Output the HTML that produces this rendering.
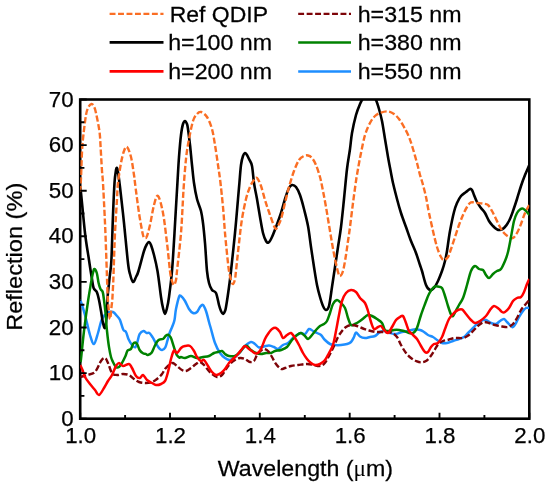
<!DOCTYPE html>
<html><head><meta charset="utf-8"><title>Reflection vs Wavelength</title>
<style>html,body{margin:0;padding:0;background:#fff}body{width:550px;height:487px;overflow:hidden}svg{display:block}text{font-family:"Liberation Sans",Arial,sans-serif;font-size:22.3px;fill:#000;stroke:#000;stroke-width:0.25px}</style></head><body>
<svg width="550" height="487" viewBox="0 0 550 487">
<rect width="550" height="487" fill="#fff"/>
<defs><clipPath id="c"><rect x="80.2" y="99.5" width="449.1" height="319.2"/></clipPath></defs>
<rect x="80.2" y="99.5" width="449.1" height="319.2" fill="none" stroke="#000" stroke-width="2.6"/>
<g clip-path="url(#c)" fill="none" stroke-linejoin="round" stroke-linecap="butt">
<path d="M80.2 301.0C80.3 301.2 80.2 299.7 81.0 302.0C81.8 304.3 83.5 309.5 85.0 315.0C86.5 320.5 88.5 330.2 90.0 335.0C91.5 339.8 92.7 344.3 94.0 344.0C95.3 343.7 96.7 337.2 98.0 333.0C99.3 328.8 100.5 322.3 102.0 319.0C103.5 315.7 105.2 314.2 107.0 313.0C108.8 311.8 111.3 311.5 113.0 312.0C114.7 312.5 115.8 314.7 117.0 316.0C118.2 317.3 119.0 317.7 120.0 320.0C121.0 322.3 122.3 327.8 123.3 329.8C124.3 331.8 125.1 330.4 126.0 332.0C126.9 333.6 127.7 337.4 128.7 339.6C129.7 341.8 130.9 343.7 132.0 345.0C133.1 346.3 134.4 347.8 135.3 347.3C136.2 346.8 136.7 344.0 137.4 341.8C138.1 339.6 138.6 336.0 139.6 334.2C140.6 332.4 142.2 331.2 143.4 331.0C144.6 330.8 145.7 332.7 146.7 333.0C147.7 333.3 148.4 332.3 149.4 333.0C150.4 333.7 151.6 335.7 152.7 337.4C153.8 339.1 154.9 341.6 156.0 343.4C157.1 345.2 158.3 347.3 159.3 348.4C160.3 349.5 161.0 350.2 162.0 350.0C163.0 349.8 164.4 348.9 165.3 347.3C166.2 345.8 166.7 343.1 167.4 340.7C168.1 338.3 168.8 335.4 169.6 333.0C170.4 330.6 171.5 328.7 172.3 326.5C173.1 324.3 173.9 322.9 174.5 320.0C175.1 317.1 175.2 312.8 176.0 309.0C176.8 305.2 178.2 299.2 179.0 297.0C179.8 294.8 180.0 295.3 181.0 296.0C182.0 296.7 183.7 298.8 185.0 301.0C186.3 303.2 187.7 307.0 189.0 309.0C190.3 311.0 191.7 312.5 193.0 313.0C194.3 313.5 195.8 313.0 197.0 312.0C198.2 311.0 199.0 308.2 200.0 307.0C201.0 305.8 202.0 304.3 203.0 305.0C204.0 305.7 205.0 308.2 206.0 311.0C207.0 313.8 208.2 319.0 209.0 322.0C209.8 325.0 210.0 325.5 211.0 329.0C212.0 332.5 213.5 339.0 215.0 343.0C216.5 347.0 218.3 350.5 220.0 353.0C221.7 355.5 223.3 356.8 225.0 358.0C226.7 359.2 228.3 360.2 230.0 360.0C231.7 359.8 233.2 358.5 235.0 357.0C236.8 355.5 239.3 352.8 241.0 351.0C242.7 349.2 243.3 347.5 245.0 346.0C246.7 344.5 249.3 342.3 251.0 342.0C252.7 341.7 253.7 343.1 255.0 344.0C256.3 344.9 257.5 347.1 259.0 347.5C260.5 347.9 262.3 346.8 264.0 346.5C265.7 346.2 267.3 345.4 269.0 345.5C270.7 345.6 272.5 346.4 274.0 347.0C275.5 347.6 276.5 349.3 278.0 349.0C279.5 348.7 281.3 346.0 283.0 345.0C284.7 344.0 286.3 344.2 288.0 343.0C289.7 341.8 291.5 339.3 293.0 338.0C294.5 336.7 295.7 335.8 297.0 335.0C298.3 334.2 299.7 333.2 301.0 333.0C302.3 332.8 303.7 334.7 305.0 334.0C306.3 333.3 307.7 329.5 309.0 329.0C310.3 328.5 311.7 330.3 313.0 331.0C314.3 331.7 315.7 332.3 317.0 333.0C318.3 333.7 319.7 333.8 321.0 335.0C322.3 336.2 323.5 338.5 325.0 340.0C326.5 341.5 328.3 343.2 330.0 344.0C331.7 344.8 333.2 344.8 335.0 345.0C336.8 345.2 339.0 345.2 341.0 345.0C343.0 344.8 345.3 344.5 347.0 344.0C348.7 343.5 349.8 343.2 351.0 342.0C352.2 340.8 353.2 338.6 354.0 337.0C354.8 335.4 355.0 332.6 356.0 332.5C357.0 332.4 358.5 335.6 360.0 336.5C361.5 337.4 363.3 337.9 365.0 338.0C366.7 338.1 368.3 337.3 370.0 337.0C371.7 336.7 373.3 336.8 375.0 336.0C376.7 335.2 378.3 332.8 380.0 332.0C381.7 331.2 383.3 330.8 385.0 331.0C386.7 331.2 388.2 332.5 390.0 333.0C391.8 333.5 394.0 334.2 396.0 334.0C398.0 333.8 400.0 332.5 402.0 332.0C404.0 331.5 406.0 331.4 408.0 331.0C410.0 330.6 412.0 329.6 414.0 329.4C416.0 329.2 418.3 329.6 420.0 330.0C421.7 330.4 422.7 331.2 424.0 332.0C425.3 332.8 426.5 334.2 428.0 335.0C429.5 335.8 431.5 336.2 433.0 337.0C434.5 337.8 435.5 339.0 437.0 340.0C438.5 341.0 440.3 342.5 442.0 343.0C443.7 343.5 445.2 343.3 447.0 343.0C448.8 342.7 451.0 341.7 453.0 341.0C455.0 340.3 457.2 339.7 459.0 339.0C460.8 338.3 462.5 338.0 464.0 337.0C465.5 336.0 466.5 334.5 468.0 333.0C469.5 331.5 471.3 329.7 473.0 328.0C474.7 326.3 476.3 324.3 478.0 323.0C479.7 321.7 481.7 320.5 483.0 320.0C484.3 319.5 484.7 319.5 486.0 320.0C487.3 320.5 489.3 322.3 491.0 323.0C492.7 323.7 494.5 324.3 496.0 324.0C497.5 323.7 498.7 321.8 500.0 321.0C501.3 320.2 502.8 318.8 504.0 319.0C505.2 319.2 505.8 320.8 507.0 322.0C508.2 323.2 510.0 325.2 511.0 326.0C512.0 326.8 512.2 327.5 513.0 327.0C513.8 326.5 515.0 324.7 516.0 323.0C517.0 321.3 517.8 319.0 519.0 317.0C520.2 315.0 521.8 312.5 523.0 311.0C524.2 309.5 525.0 308.5 526.0 308.0C527.0 307.5 528.8 308.0 529.3 308.0" stroke="#1E8EFF" stroke-width="2.5"/>
<path d="M80.2 190.0C80.3 190.5 80.2 185.8 81.0 193.0C81.8 200.2 83.7 221.8 85.0 233.0C86.3 244.2 87.9 252.5 89.0 260.0C90.1 267.5 91.0 273.3 91.8 278.0C92.6 282.7 92.8 285.7 93.6 288.0C94.4 290.3 95.9 290.0 96.8 292.0C97.7 294.0 98.3 296.8 99.0 300.0C99.7 303.2 100.3 307.2 101.0 311.0C101.7 314.8 102.3 320.2 103.0 323.0C103.7 325.8 104.4 328.8 105.0 328.0C105.6 327.2 106.0 323.3 106.5 318.0C107.0 312.7 107.4 301.2 107.7 296.0C108.0 290.8 108.2 290.7 108.6 287.0C109.0 283.3 109.5 278.5 110.0 274.0C110.5 269.5 110.9 269.8 111.4 260.0C111.9 250.2 112.5 227.8 113.0 215.0C113.5 202.2 114.0 190.5 114.5 183.0C115.0 175.5 115.6 172.5 116.0 170.0C116.4 167.5 116.7 167.7 117.0 168.0C117.3 168.3 117.5 168.8 118.0 172.0C118.5 175.2 119.0 178.5 120.0 187.0C121.0 195.5 122.7 210.3 124.0 223.0C125.3 235.7 127.0 254.5 128.0 263.0C129.0 271.5 129.2 270.8 130.0 274.0C130.8 277.2 132.0 281.5 133.0 282.0C134.0 282.5 135.1 278.8 136.0 277.0C136.9 275.2 137.2 275.3 138.5 271.0C139.8 266.7 142.6 255.5 144.0 251.0C145.4 246.5 146.2 245.5 147.0 244.0C147.8 242.5 148.3 241.8 149.0 242.0C149.7 242.2 150.2 242.8 151.0 245.0C151.8 247.2 152.9 250.7 154.0 255.0C155.1 259.3 156.3 264.0 157.5 271.0C158.7 278.0 160.1 290.8 161.0 297.0C161.9 303.2 162.3 305.2 163.0 308.0C163.7 310.8 164.3 314.0 165.0 314.0C165.7 314.0 166.3 310.8 167.0 308.0C167.7 305.2 168.2 303.2 169.0 297.0C169.8 290.8 171.1 281.7 172.0 271.0C172.9 260.3 173.7 246.5 174.5 233.0C175.3 219.5 176.2 202.7 177.0 190.0C177.8 177.3 178.3 166.2 179.0 157.0C179.7 147.8 180.3 140.5 181.0 135.0C181.7 129.5 182.3 126.3 183.0 124.0C183.7 121.7 184.3 121.0 185.0 121.0C185.7 121.0 186.5 122.7 187.0 124.0C187.5 125.3 187.5 125.5 188.0 129.0C188.5 132.5 189.3 139.0 190.0 145.0C190.7 151.0 191.3 158.7 192.0 165.0C192.7 171.3 193.2 177.3 194.0 183.0C194.8 188.7 195.8 194.3 197.0 199.0C198.2 203.7 200.0 207.0 201.0 211.0C202.0 215.0 202.3 217.7 203.0 223.0C203.7 228.3 204.3 235.0 205.0 243.0C205.7 251.0 206.3 264.3 207.0 271.0C207.7 277.7 208.2 279.8 209.0 283.0C209.8 286.2 210.8 288.3 212.0 290.0C213.2 291.7 214.8 290.5 216.0 293.0C217.2 295.5 218.2 302.0 219.0 305.0C219.8 308.0 220.3 309.5 221.0 311.0C221.7 312.5 222.3 314.0 223.0 314.0C223.7 314.0 224.5 312.2 225.0 311.0C225.5 309.8 225.3 311.0 226.0 307.0C226.7 303.0 228.2 293.0 229.0 287.0C229.8 281.0 230.0 280.0 231.0 271.0C232.0 262.0 233.8 245.0 235.0 233.0C236.2 221.0 237.3 207.3 238.0 199.0C238.7 190.7 238.9 188.7 239.4 183.0C239.9 177.3 240.4 169.5 241.0 165.0C241.6 160.5 242.3 158.0 243.0 156.0C243.7 154.0 244.3 153.2 245.0 153.0C245.7 152.8 246.3 154.0 247.0 155.0C247.7 156.0 248.2 157.2 249.0 159.0C249.8 160.8 251.2 162.0 252.0 166.0C252.8 170.0 253.2 177.5 254.0 183.0C254.8 188.5 256.0 193.3 257.0 199.0C258.0 204.7 259.0 211.3 260.0 217.0C261.0 222.7 262.0 229.0 263.0 233.0C264.0 237.0 265.1 239.4 266.0 241.0C266.9 242.6 267.6 243.2 268.6 242.5C269.6 241.8 270.8 239.6 272.0 237.0C273.2 234.4 274.5 231.0 276.0 227.0C277.5 223.0 279.5 217.7 281.0 213.0C282.5 208.3 283.7 203.2 285.0 199.0C286.3 194.8 287.8 190.3 289.0 188.0C290.2 185.7 290.8 185.2 292.0 185.0C293.2 184.8 294.7 185.3 296.0 187.0C297.3 188.7 298.7 191.3 300.0 195.0C301.3 198.7 302.7 203.8 304.0 209.0C305.3 214.2 306.8 219.7 308.0 226.0C309.2 232.3 310.0 240.2 311.0 247.0C312.0 253.8 313.0 260.7 314.0 267.0C315.0 273.3 316.0 280.0 317.0 285.0C318.0 290.0 319.0 293.5 320.0 297.0C321.0 300.5 322.0 303.8 323.0 306.0C324.0 308.2 325.0 310.0 326.0 310.0C327.0 310.0 328.0 309.8 329.0 306.0C330.0 302.2 331.0 293.5 332.0 287.0C333.0 280.5 334.0 273.7 335.0 267.0C336.0 260.3 337.0 253.7 338.0 247.0C339.0 240.3 340.0 235.0 341.0 227.0C342.0 219.0 343.0 208.7 344.0 199.0C345.0 189.3 346.0 177.3 347.0 169.0C348.0 160.7 349.2 155.0 350.0 149.0C350.8 143.0 351.0 138.7 352.0 133.0C353.0 127.3 354.7 119.8 356.0 115.0C357.3 110.2 358.7 107.0 360.0 104.0C361.3 101.0 362.5 98.8 364.0 97.0C365.5 95.2 367.5 93.2 369.0 93.0C370.5 92.8 371.8 94.8 373.0 96.0C374.2 97.2 375.0 97.8 376.0 100.0C377.0 102.2 378.0 105.5 379.0 109.0C380.0 112.5 381.0 116.0 382.0 121.0C383.0 126.0 384.0 133.0 385.0 139.0C386.0 145.0 387.0 151.3 388.0 157.0C389.0 162.7 390.2 168.7 391.0 173.0C391.8 177.3 392.0 178.7 393.0 183.0C394.0 187.3 395.7 194.0 397.0 199.0C398.3 204.0 399.5 208.3 401.0 213.0C402.5 217.7 404.3 222.3 406.0 227.0C407.7 231.7 409.3 236.7 411.0 241.0C412.7 245.3 414.5 249.0 416.0 253.0C417.5 257.0 419.0 262.0 420.0 265.0C421.0 268.0 421.0 267.7 422.0 271.0C423.0 274.3 424.7 281.8 426.0 285.0C427.3 288.2 428.7 289.5 430.0 290.0C431.3 290.5 432.7 289.5 434.0 288.0C435.3 286.5 436.7 283.8 438.0 281.0C439.3 278.2 440.8 274.3 442.0 271.0C443.2 267.7 444.2 264.3 445.0 261.0C445.8 257.7 446.2 256.0 447.0 251.0C447.8 246.0 448.8 237.5 450.0 231.0C451.2 224.5 452.8 216.7 454.0 212.0C455.2 207.3 455.8 205.7 457.0 203.0C458.2 200.3 459.5 197.8 461.0 196.0C462.5 194.2 464.5 193.2 466.0 192.0C467.5 190.8 469.0 189.3 470.0 189.0C471.0 188.7 471.3 189.0 472.0 190.0C472.7 191.0 473.2 193.0 474.0 195.0C474.8 197.0 475.8 199.8 477.0 202.0C478.2 204.2 479.7 206.2 481.0 208.0C482.3 209.8 483.7 210.8 485.0 213.0C486.3 215.2 487.7 218.8 489.0 221.0C490.3 223.2 491.7 224.6 493.0 226.0C494.3 227.4 495.8 228.7 497.0 229.4C498.2 230.1 498.8 230.2 500.0 230.0C501.2 229.8 502.5 229.5 504.0 228.0C505.5 226.5 507.5 223.8 509.0 221.0C510.5 218.2 511.7 214.7 513.0 211.0C514.3 207.3 515.7 203.2 517.0 199.0C518.3 194.8 519.7 190.0 521.0 186.0C522.3 182.0 523.6 178.5 525.0 175.0C526.4 171.5 528.6 166.7 529.3 165.0" stroke="#000" stroke-width="2.6"/>
<path d="M80.2 192.0C80.3 189.7 80.7 184.7 81.0 178.0C81.3 171.3 81.6 159.2 82.0 152.0C82.4 144.8 82.7 141.2 83.4 135.0C84.1 128.8 85.2 119.7 86.0 115.0C86.8 110.3 87.6 108.8 88.5 107.0C89.4 105.2 90.7 104.1 91.6 104.0C92.5 103.9 93.3 105.0 94.0 106.5C94.7 108.0 95.1 108.9 96.0 113.0C96.9 117.1 98.6 125.3 99.4 131.0C100.2 136.7 100.2 140.3 100.6 147.0C101.0 153.7 101.6 165.0 102.0 171.0C102.4 177.0 102.5 174.3 103.0 183.0C103.5 191.7 104.4 210.2 105.0 223.0C105.6 235.8 106.0 249.3 106.4 260.0C106.8 270.7 107.0 279.5 107.3 287.0C107.6 294.5 107.8 299.7 108.3 305.0C108.8 310.3 109.4 319.0 110.0 319.0C110.6 319.0 111.3 308.2 111.7 305.0C112.1 301.8 112.0 303.7 112.3 300.0C112.5 296.3 112.9 289.7 113.2 283.0C113.5 276.3 113.7 268.3 114.0 260.0C114.3 251.7 114.5 243.2 115.0 233.0C115.5 222.8 116.5 207.3 117.0 199.0C117.5 190.7 117.3 189.0 118.0 183.0C118.7 177.0 120.0 168.3 121.0 163.0C122.0 157.7 123.0 153.7 124.0 151.0C125.0 148.3 125.8 146.0 127.0 147.0C128.2 148.0 129.8 152.3 131.0 157.0C132.2 161.7 133.3 170.7 134.0 175.0C134.7 179.3 134.2 176.7 135.0 183.0C135.8 189.3 137.7 204.3 139.0 213.0C140.3 221.7 142.0 230.8 143.0 235.0C144.0 239.2 144.3 237.8 145.0 238.0C145.7 238.2 146.2 238.2 147.0 236.0C147.8 233.8 148.8 230.2 150.0 225.0C151.2 219.8 152.7 209.8 154.0 205.0C155.3 200.2 156.5 194.7 158.0 196.0C159.5 197.3 161.5 205.2 163.0 213.0C164.5 220.8 165.8 233.3 167.0 243.0C168.2 252.7 169.2 264.7 170.0 271.0C170.8 277.3 171.3 278.7 172.0 281.0C172.7 283.3 173.3 285.2 174.0 285.0C174.7 284.8 175.5 282.3 176.0 280.0C176.5 277.7 176.2 278.8 177.0 271.0C177.8 263.2 179.9 246.5 181.0 233.0C182.1 219.5 182.7 202.3 183.5 190.0C184.3 177.7 185.1 167.5 186.0 159.0C186.9 150.5 187.8 145.3 189.0 139.0C190.2 132.7 191.7 125.2 193.0 121.0C194.3 116.8 195.7 115.5 197.0 114.0C198.3 112.5 199.3 111.5 201.0 112.0C202.7 112.5 205.2 114.2 207.0 117.0C208.8 119.8 210.7 124.3 212.0 129.0C213.3 133.7 214.0 139.0 215.0 145.0C216.0 151.0 217.1 158.7 218.0 165.0C218.9 171.3 219.7 176.0 220.5 183.0C221.3 190.0 222.2 198.7 223.0 207.0C223.8 215.3 224.2 223.7 225.0 233.0C225.8 242.3 227.3 256.7 228.0 263.0C228.7 269.3 228.5 268.2 229.0 271.0C229.5 273.8 230.3 277.8 231.0 280.0C231.7 282.2 232.3 284.2 233.0 284.0C233.7 283.8 234.5 281.2 235.0 279.0C235.5 276.8 235.3 277.0 236.0 271.0C236.7 265.0 238.0 251.7 239.0 243.0C240.0 234.3 240.8 226.3 242.0 219.0C243.2 211.7 244.7 204.3 246.0 199.0C247.3 193.7 248.7 190.2 250.0 187.0C251.3 183.8 252.8 181.5 254.0 180.0C255.2 178.5 255.8 177.0 257.0 178.0C258.2 179.0 259.7 182.3 261.0 186.0C262.3 189.7 263.7 195.7 265.0 200.0C266.3 204.3 267.5 207.7 269.0 212.0C270.5 216.3 272.8 223.2 274.0 226.0C275.2 228.8 275.3 229.0 276.0 229.0C276.7 229.0 277.2 227.7 278.0 226.0C278.8 224.3 279.8 222.8 281.0 219.0C282.2 215.2 283.7 208.3 285.0 203.0C286.3 197.7 287.5 192.3 289.0 187.0C290.5 181.7 292.3 175.5 294.0 171.0C295.7 166.5 297.3 162.5 299.0 160.0C300.7 157.5 302.5 156.8 304.0 156.0C305.5 155.2 306.7 155.2 308.0 155.5C309.3 155.8 310.7 156.4 312.0 158.0C313.3 159.6 314.7 161.8 316.0 165.0C317.3 168.2 318.8 172.7 320.0 177.0C321.2 181.3 322.0 186.0 323.0 191.0C324.0 196.0 325.0 201.3 326.0 207.0C327.0 212.7 328.0 219.0 329.0 225.0C330.0 231.0 331.0 237.3 332.0 243.0C333.0 248.7 334.0 254.2 335.0 259.0C336.0 263.8 337.2 269.2 338.0 272.0C338.8 274.8 339.2 276.2 340.0 276.0C340.8 275.8 342.0 274.5 343.0 271.0C344.0 267.5 345.2 260.0 346.0 255.0C346.8 250.0 347.3 245.7 348.0 241.0C348.7 236.3 349.2 233.3 350.0 227.0C350.8 220.7 352.0 210.7 353.0 203.0C354.0 195.3 355.2 186.7 356.0 181.0C356.8 175.3 357.2 173.7 358.0 169.0C358.8 164.3 359.8 158.7 361.0 153.0C362.2 147.3 363.5 140.0 365.0 135.0C366.5 130.0 368.3 126.2 370.0 123.0C371.7 119.8 373.2 117.7 375.0 116.0C376.8 114.3 378.8 113.4 381.0 112.6C383.2 111.8 385.8 111.2 388.0 111.4C390.2 111.6 392.2 112.7 394.0 114.0C395.8 115.3 397.3 116.8 399.0 119.0C400.7 121.2 402.3 124.0 404.0 127.0C405.7 130.0 407.5 133.3 409.0 137.0C410.5 140.7 411.7 144.7 413.0 149.0C414.3 153.3 415.8 158.7 417.0 163.0C418.2 167.3 419.1 171.7 420.0 175.0C420.9 178.3 421.5 179.3 422.5 183.0C423.5 186.7 424.9 192.0 426.0 197.0C427.1 202.0 427.8 207.3 429.0 213.0C430.2 218.7 431.7 225.3 433.0 231.0C434.3 236.7 435.7 242.7 437.0 247.0C438.3 251.3 439.8 254.8 441.0 257.0C442.2 259.2 442.8 260.0 444.0 260.0C445.2 260.0 446.8 258.8 448.0 257.0C449.2 255.2 449.8 252.3 451.0 249.0C452.2 245.7 453.7 241.0 455.0 237.0C456.3 233.0 457.7 228.7 459.0 225.0C460.3 221.3 461.7 218.0 463.0 215.0C464.3 212.0 465.7 209.1 467.0 207.0C468.3 204.9 469.3 203.1 471.0 202.4C472.7 201.7 475.0 202.8 477.0 203.0C479.0 203.2 481.2 203.3 483.0 203.6C484.8 203.9 486.5 203.8 488.0 205.0C489.5 206.2 490.7 208.7 492.0 211.0C493.3 213.3 494.7 216.3 496.0 219.0C497.3 221.7 498.7 224.7 500.0 227.0C501.3 229.3 502.5 231.3 504.0 233.0C505.5 234.7 507.5 236.2 509.0 237.0C510.5 237.8 511.7 238.7 513.0 238.0C514.3 237.3 515.7 235.3 517.0 233.0C518.3 230.7 519.7 227.3 521.0 224.0C522.3 220.7 523.6 216.2 525.0 213.0C526.4 209.8 528.6 206.3 529.3 205.0" stroke="#FA6E24" stroke-width="2.4" stroke-dasharray="6.1 2.5"/>
<path d="M80.2 362.0C80.3 361.5 80.4 364.2 81.0 359.0C81.6 353.8 82.8 340.8 84.0 331.0C85.2 321.2 87.0 308.0 88.2 300.0C89.4 292.0 90.2 287.7 91.0 283.0C91.8 278.3 92.6 274.3 93.2 272.0C93.8 269.7 93.9 268.8 94.5 269.0C95.1 269.2 96.1 270.7 96.8 273.0C97.5 275.3 98.0 280.3 98.6 283.0C99.2 285.7 99.8 287.5 100.5 289.0C101.2 290.5 102.1 290.2 102.7 292.0C103.3 293.8 103.5 296.5 104.0 300.0C104.5 303.5 105.0 307.8 105.5 313.0C106.0 318.2 106.4 325.3 107.0 331.0C107.6 336.7 108.3 342.7 109.0 347.0C109.7 351.3 110.3 354.5 111.0 357.0C111.7 359.5 112.2 360.3 113.0 362.0C113.8 363.7 115.0 366.2 116.0 367.0C117.0 367.8 118.1 367.6 119.0 367.0C119.9 366.4 120.5 365.4 121.6 363.6C122.7 361.8 124.5 358.2 125.5 356.0C126.5 353.8 126.7 351.7 127.6 350.5C128.5 349.3 130.1 350.0 131.0 348.9C131.9 347.8 132.3 345.1 133.0 344.0C133.7 342.9 134.6 342.3 135.3 342.4C136.0 342.5 136.7 343.2 137.4 344.5C138.1 345.8 138.7 348.5 139.6 350.0C140.5 351.5 142.0 352.7 143.0 353.3C144.0 353.9 144.8 353.5 145.6 353.8C146.4 354.1 146.8 355.1 147.8 354.9C148.8 354.7 150.5 354.1 151.6 352.7C152.7 351.3 153.5 348.5 154.4 346.7C155.3 344.9 156.2 343.0 157.0 341.8C157.8 340.6 158.3 340.1 159.3 339.6C160.3 339.1 161.9 339.6 163.0 339.0C164.1 338.4 165.0 336.5 165.8 335.8C166.6 335.1 167.2 334.4 168.0 334.7C168.8 335.0 170.0 336.2 170.7 337.4C171.4 338.6 171.7 339.9 172.3 341.8C172.9 343.7 173.8 346.7 174.5 348.9C175.2 351.1 175.9 353.4 176.7 354.9C177.5 356.3 178.7 357.2 179.4 357.6C180.1 358.0 180.1 356.9 181.0 357.0C181.9 357.1 183.3 358.2 185.0 358.0C186.7 357.8 189.0 356.0 191.0 356.0C193.0 356.0 195.0 357.8 197.0 358.0C199.0 358.2 201.0 357.3 203.0 357.0C205.0 356.7 207.2 356.7 209.0 356.0C210.8 355.3 212.5 353.7 214.0 353.0C215.5 352.3 216.7 352.3 218.0 352.0C219.3 351.7 220.8 350.7 222.0 351.0C223.2 351.3 223.8 353.2 225.0 354.0C226.2 354.8 227.3 355.7 229.0 356.0C230.7 356.3 233.2 356.7 235.0 356.0C236.8 355.3 238.5 353.5 240.0 352.0C241.5 350.5 242.8 348.0 244.0 347.0C245.2 346.0 245.8 345.5 247.0 346.0C248.2 346.5 249.5 348.8 251.0 350.0C252.5 351.2 254.3 352.3 256.0 353.0C257.7 353.7 259.3 354.0 261.0 354.0C262.7 354.0 264.3 353.2 266.0 353.0C267.7 352.8 269.5 353.3 271.0 353.0C272.5 352.7 273.3 351.5 275.0 351.0C276.7 350.5 279.0 350.7 281.0 350.0C283.0 349.3 285.2 348.7 287.0 347.0C288.8 345.3 290.3 342.0 292.0 340.0C293.7 338.0 295.5 336.2 297.0 335.0C298.5 333.8 299.7 332.8 301.0 333.0C302.3 333.2 303.8 335.0 305.0 336.0C306.2 337.0 306.8 339.2 308.0 339.0C309.2 338.8 310.7 336.5 312.0 335.0C313.3 333.5 314.7 331.5 316.0 330.0C317.3 328.5 318.7 327.0 320.0 326.0C321.3 325.0 322.8 324.8 324.0 324.0C325.2 323.2 326.0 322.8 327.0 321.0C328.0 319.2 329.0 315.8 330.0 313.0C331.0 310.2 331.8 306.2 333.0 304.0C334.2 301.8 335.7 300.2 337.0 300.0C338.3 299.8 339.7 301.7 341.0 303.0C342.3 304.3 343.8 305.5 345.0 308.0C346.2 310.5 347.0 315.2 348.0 318.0C349.0 320.8 349.8 324.0 351.0 325.0C352.2 326.0 353.5 324.7 355.0 324.0C356.5 323.3 358.3 322.2 360.0 321.0C361.7 319.8 363.7 318.0 365.0 317.0C366.3 316.0 366.8 315.2 368.0 315.0C369.2 314.8 370.5 315.3 372.0 316.0C373.5 316.7 375.3 317.8 377.0 319.0C378.7 320.2 380.7 321.2 382.0 323.0C383.3 324.8 383.8 328.7 385.0 330.0C386.2 331.3 387.5 331.0 389.0 331.0C390.5 331.0 392.3 330.2 394.0 330.0C395.7 329.8 397.3 329.8 399.0 330.0C400.7 330.2 402.3 330.5 404.0 331.0C405.7 331.5 407.5 332.7 409.0 333.0C410.5 333.3 411.8 333.5 413.0 333.0C414.2 332.5 415.2 331.3 416.0 330.0C416.8 328.7 417.2 327.5 418.0 325.0C418.8 322.5 419.8 318.5 421.0 315.0C422.2 311.5 423.7 307.5 425.0 304.0C426.3 300.5 427.5 296.8 429.0 294.0C430.5 291.2 432.5 288.2 434.0 287.0C435.5 285.8 436.7 286.4 438.0 286.6C439.3 286.8 440.8 286.4 442.0 288.0C443.2 289.6 444.0 293.0 445.0 296.0C446.0 299.0 447.0 302.9 448.0 306.0C449.0 309.1 450.2 312.8 451.0 314.5C451.8 316.2 452.2 316.7 453.0 316.0C453.8 315.3 455.0 312.3 456.0 310.5C457.0 308.7 457.8 307.1 459.0 305.0C460.2 302.9 461.7 301.3 463.0 298.0C464.3 294.7 465.7 289.5 467.0 285.0C468.3 280.5 469.7 274.2 471.0 271.0C472.3 267.8 473.7 266.3 475.0 266.0C476.3 265.7 477.7 268.3 479.0 269.0C480.3 269.7 481.8 269.0 483.0 270.0C484.2 271.0 485.0 273.7 486.0 275.0C487.0 276.3 487.8 278.2 489.0 278.0C490.2 277.8 491.7 275.2 493.0 274.0C494.3 272.8 495.7 271.8 497.0 271.0C498.3 270.2 499.7 270.7 501.0 269.0C502.3 267.3 503.8 263.8 505.0 261.0C506.2 258.2 507.0 256.0 508.0 252.0C509.0 248.0 510.0 242.2 511.0 237.0C512.0 231.8 513.0 225.0 514.0 221.0C515.0 217.0 516.0 214.9 517.0 213.0C518.0 211.1 519.0 210.1 520.0 209.4C521.0 208.7 522.0 208.3 523.0 208.6C524.0 208.9 525.0 209.9 526.0 211.0C527.0 212.1 528.8 214.3 529.3 215.0" stroke="#008200" stroke-width="2.5"/>
<path d="M80.2 377.0C81.3 376.7 84.5 375.8 87.0 375.0C89.5 374.2 92.7 374.3 95.0 372.0C97.3 369.7 99.3 363.3 101.0 361.0C102.7 358.7 103.8 357.7 105.0 358.0C106.2 358.3 106.8 360.5 108.0 363.0C109.2 365.5 110.5 371.0 112.0 373.0C113.5 375.0 115.2 374.8 117.0 375.0C118.8 375.2 121.0 374.0 123.0 374.0C125.0 374.0 127.2 374.2 129.0 375.0C130.8 375.8 132.3 377.8 134.0 379.0C135.7 380.2 137.0 381.3 139.0 382.0C141.0 382.7 143.8 383.0 146.0 383.0C148.2 383.0 150.2 382.7 152.0 382.0C153.8 381.3 155.3 380.3 157.0 379.0C158.7 377.7 160.7 375.7 162.0 374.0C163.3 372.3 163.8 370.5 165.0 369.0C166.2 367.5 167.7 366.0 169.0 365.0C170.3 364.0 171.7 362.8 173.0 363.0C174.3 363.2 175.5 364.8 177.0 366.0C178.5 367.2 180.5 369.2 182.0 370.0C183.5 370.8 184.5 371.3 186.0 371.0C187.5 370.7 189.3 369.2 191.0 368.0C192.7 366.8 194.5 365.0 196.0 364.0C197.5 363.0 198.7 361.8 200.0 362.0C201.3 362.2 202.7 363.7 204.0 365.0C205.3 366.3 206.7 368.5 208.0 370.0C209.3 371.5 210.5 372.8 212.0 374.0C213.5 375.2 215.3 376.8 217.0 377.0C218.7 377.2 220.5 376.3 222.0 375.0C223.5 373.7 224.7 370.8 226.0 369.0C227.3 367.2 228.5 365.5 230.0 364.0C231.5 362.5 233.3 361.0 235.0 360.0C236.7 359.0 238.3 358.2 240.0 358.0C241.7 357.8 243.3 358.3 245.0 359.0C246.7 359.7 248.5 361.7 250.0 362.0C251.5 362.3 252.8 362.2 254.0 361.0C255.2 359.8 255.8 356.8 257.0 355.0C258.2 353.2 259.8 351.5 261.0 350.5C262.2 349.5 262.8 348.9 264.0 349.0C265.2 349.1 266.7 349.7 268.0 351.0C269.3 352.3 270.7 354.8 272.0 357.0C273.3 359.2 274.5 362.0 276.0 364.0C277.5 366.0 279.5 368.3 281.0 369.0C282.5 369.7 283.3 368.5 285.0 368.0C286.7 367.5 288.8 366.5 291.0 366.0C293.2 365.5 295.3 365.3 298.0 365.0C300.7 364.7 304.3 364.0 307.0 364.0C309.7 364.0 312.0 364.7 314.0 365.0C316.0 365.3 317.3 366.2 319.0 366.0C320.7 365.8 322.3 365.7 324.0 364.0C325.7 362.3 327.3 359.0 329.0 356.0C330.7 353.0 332.5 349.2 334.0 346.0C335.5 342.8 336.7 339.5 338.0 337.0C339.3 334.5 340.7 332.7 342.0 331.0C343.3 329.3 344.5 328.0 346.0 327.0C347.5 326.0 349.2 325.2 351.0 325.0C352.8 324.8 355.0 325.4 357.0 326.0C359.0 326.6 361.0 327.8 363.0 328.5C365.0 329.2 366.7 329.9 369.0 330.5C371.3 331.1 374.3 331.8 377.0 332.0C379.7 332.2 382.5 331.8 385.0 332.0C387.5 332.2 390.0 332.2 392.0 333.0C394.0 333.8 395.5 335.0 397.0 337.0C398.5 339.0 399.5 342.3 401.0 345.0C402.5 347.7 404.3 350.8 406.0 353.0C407.7 355.2 409.3 356.7 411.0 358.0C412.7 359.3 414.3 360.3 416.0 361.0C417.7 361.7 419.3 362.4 421.0 362.4C422.7 362.4 424.5 361.9 426.0 361.0C427.5 360.1 428.7 358.7 430.0 357.0C431.3 355.3 432.7 353.1 434.0 351.0C435.3 348.9 436.5 346.2 438.0 344.5C439.5 342.8 441.2 341.8 443.0 341.0C444.8 340.2 447.0 340.0 449.0 339.5C451.0 339.0 452.7 338.2 455.0 338.0C457.3 337.8 460.7 338.5 463.0 338.0C465.3 337.5 467.2 336.3 469.0 335.0C470.8 333.7 472.3 331.7 474.0 330.0C475.7 328.3 477.3 326.3 479.0 325.0C480.7 323.7 482.3 322.3 484.0 322.0C485.7 321.7 487.2 322.5 489.0 323.0C490.8 323.5 492.8 324.4 495.0 325.0C497.2 325.6 499.8 326.2 502.0 326.5C504.2 326.8 506.2 327.4 508.0 327.0C509.8 326.6 511.5 325.5 513.0 324.0C514.5 322.5 515.7 320.3 517.0 318.0C518.3 315.7 519.7 312.2 521.0 310.0C522.3 307.8 523.6 306.7 525.0 305.0C526.4 303.3 528.6 300.8 529.3 300.0" stroke="#7D0408" stroke-width="2.4" stroke-dasharray="6.1 2.5"/>
<path d="M80.2 365.0C80.6 365.8 81.7 368.0 82.5 370.0C83.3 372.0 83.8 374.7 85.0 377.0C86.2 379.3 88.3 381.8 90.0 384.0C91.7 386.2 93.5 388.2 95.0 390.0C96.5 391.8 97.5 395.3 99.0 395.0C100.5 394.7 102.5 390.3 104.0 388.0C105.5 385.7 106.7 383.2 108.0 381.0C109.3 378.8 110.7 377.5 112.0 375.0C113.3 372.5 114.8 368.0 116.0 366.0C117.2 364.0 117.8 363.0 119.0 363.0C120.2 363.0 121.3 365.8 123.0 366.0C124.7 366.2 127.5 363.7 129.0 364.0C130.5 364.3 130.8 366.0 132.0 368.0C133.2 370.0 134.7 374.3 136.0 376.0C137.3 377.7 138.8 378.2 140.0 378.0C141.2 377.8 141.8 374.7 143.0 375.0C144.2 375.3 145.5 378.7 147.0 380.0C148.5 381.3 150.5 382.2 152.0 383.0C153.5 383.8 154.5 384.8 156.0 385.0C157.5 385.2 159.5 384.7 161.0 384.0C162.5 383.3 163.8 383.0 165.0 381.0C166.2 379.0 167.0 375.7 168.0 372.0C169.0 368.3 170.0 362.6 171.0 359.0C172.0 355.4 173.0 351.5 174.0 350.5C175.0 349.5 175.8 353.4 177.0 353.0C178.2 352.6 179.7 349.2 181.0 348.0C182.3 346.8 183.5 346.3 185.0 346.0C186.5 345.7 188.5 345.2 190.0 346.0C191.5 346.8 192.8 349.2 194.0 351.0C195.2 352.8 195.8 355.3 197.0 357.0C198.2 358.7 199.8 360.5 201.0 361.0C202.2 361.5 202.8 359.2 204.0 360.0C205.2 360.8 206.7 364.0 208.0 366.0C209.3 368.0 210.7 370.5 212.0 372.0C213.3 373.5 214.5 374.8 216.0 375.0C217.5 375.2 219.5 374.0 221.0 373.0C222.5 372.0 223.7 370.7 225.0 369.0C226.3 367.3 227.5 364.8 229.0 363.0C230.5 361.2 232.5 359.5 234.0 358.0C235.5 356.5 236.7 355.5 238.0 354.0C239.3 352.5 240.8 350.3 242.0 349.0C243.2 347.7 243.8 346.0 245.0 346.0C246.2 346.0 247.7 348.0 249.0 349.0C250.3 350.0 251.7 351.2 253.0 352.0C254.3 352.8 255.7 354.0 257.0 353.5C258.3 353.0 259.7 351.4 261.0 349.0C262.3 346.6 263.7 341.8 265.0 339.0C266.3 336.2 267.8 334.2 269.0 332.5C270.2 330.8 270.8 329.8 272.0 329.0C273.2 328.2 274.7 327.5 276.0 328.0C277.3 328.5 278.8 330.3 280.0 332.0C281.2 333.7 281.8 337.5 283.0 338.0C284.2 338.5 285.7 335.8 287.0 335.0C288.3 334.2 289.7 332.5 291.0 333.0C292.3 333.5 293.7 336.0 295.0 338.0C296.3 340.0 297.7 342.5 299.0 345.0C300.3 347.5 301.7 350.7 303.0 353.0C304.3 355.3 305.7 357.3 307.0 359.0C308.3 360.7 309.7 362.0 311.0 363.0C312.3 364.0 313.5 364.8 315.0 365.0C316.5 365.2 318.3 364.8 320.0 364.0C321.7 363.2 323.5 361.8 325.0 360.0C326.5 358.2 327.7 355.5 329.0 353.0C330.3 350.5 331.8 348.7 333.0 345.0C334.2 341.3 335.0 336.0 336.0 331.0C337.0 326.0 338.0 320.0 339.0 315.0C340.0 310.0 340.8 304.7 342.0 301.0C343.2 297.3 344.5 294.8 346.0 293.0C347.5 291.2 349.3 290.2 351.0 290.0C352.7 289.8 354.5 290.7 356.0 292.0C357.5 293.3 358.5 296.2 360.0 298.0C361.5 299.8 363.7 300.8 365.0 303.0C366.3 305.2 367.0 307.8 368.0 311.0C369.0 314.2 370.0 319.0 371.0 322.0C372.0 325.0 372.8 328.2 374.0 329.0C375.2 329.8 376.8 327.5 378.0 327.0C379.2 326.5 380.0 325.5 381.0 326.0C382.0 326.5 382.8 328.8 384.0 330.0C385.2 331.2 386.7 333.5 388.0 333.0C389.3 332.5 390.7 329.2 392.0 327.0C393.3 324.8 394.7 321.7 396.0 320.0C397.3 318.3 398.8 317.7 400.0 317.0C401.2 316.3 402.0 315.0 403.0 316.0C404.0 317.0 405.0 320.5 406.0 323.0C407.0 325.5 407.8 329.0 409.0 331.0C410.2 333.0 411.7 333.7 413.0 335.0C414.3 336.3 415.7 337.2 417.0 339.0C418.3 340.8 419.7 343.8 421.0 346.0C422.3 348.2 423.8 351.0 425.0 352.0C426.2 353.0 427.0 352.8 428.0 352.0C429.0 351.2 430.0 348.3 431.0 347.0C432.0 345.7 432.8 344.7 434.0 344.0C435.2 343.3 436.7 344.2 438.0 343.0C439.3 341.8 440.8 339.3 442.0 337.0C443.2 334.7 443.8 332.0 445.0 329.0C446.2 326.0 447.5 321.7 449.0 319.0C450.5 316.3 452.5 314.5 454.0 313.0C455.5 311.5 456.7 310.6 458.0 310.0C459.3 309.4 460.7 308.7 462.0 309.4C463.3 310.1 464.5 312.2 466.0 314.0C467.5 315.8 469.5 318.5 471.0 320.0C472.5 321.5 473.5 322.8 475.0 323.0C476.5 323.2 478.2 322.2 480.0 321.0C481.8 319.8 484.3 317.8 486.0 316.0C487.7 314.2 488.7 311.7 490.0 310.0C491.3 308.3 492.5 306.2 494.0 306.0C495.5 305.8 497.7 308.0 499.0 309.0C500.3 310.0 501.0 311.5 502.0 312.0C503.0 312.5 503.8 312.7 505.0 312.0C506.2 311.3 507.7 309.8 509.0 308.0C510.3 306.2 511.7 302.7 513.0 301.0C514.3 299.3 515.7 298.7 517.0 298.0C518.3 297.3 519.8 298.0 521.0 297.0C522.2 296.0 523.0 294.2 524.0 292.0C525.0 289.8 526.1 286.2 527.0 284.0C527.9 281.8 528.9 279.8 529.3 279.0" stroke="#FF0000" stroke-width="2.5"/>
</g>
<path d="M80.2 418.7 v-6.0M125.1 418.7 v-3.6M170.0 418.7 v-6.0M214.9 418.7 v-3.6M259.8 418.7 v-6.0M304.8 418.7 v-3.6M349.7 418.7 v-6.0M394.6 418.7 v-3.6M439.5 418.7 v-6.0M484.4 418.7 v-3.6M529.3 418.7 v-6.0M80.2 418.7 h6.5M80.2 395.9 h4.2M80.2 373.1 h6.5M80.2 350.3 h4.2M80.2 327.5 h6.5M80.2 304.7 h4.2M80.2 281.9 h6.5M80.2 259.1 h4.2M80.2 236.3 h6.5M80.2 213.5 h4.2M80.2 190.7 h6.5M80.2 167.9 h4.2M80.2 145.1 h6.5M80.2 122.3 h4.2M80.2 99.5 h6.5" stroke="#000" stroke-width="1.9" fill="none"/>
<text x="80.7" y="443" text-anchor="middle">1.0</text>
<text x="170.5" y="443" text-anchor="middle">1.2</text>
<text x="260.3" y="443" text-anchor="middle">1.4</text>
<text x="350.2" y="443" text-anchor="middle">1.6</text>
<text x="440.0" y="443" text-anchor="middle">1.8</text>
<text x="529.8" y="443" text-anchor="middle">2.0</text>
<text x="73.6" y="425.7" text-anchor="end">0</text>
<text x="73.6" y="380.1" text-anchor="end">10</text>
<text x="73.6" y="334.5" text-anchor="end">20</text>
<text x="73.6" y="288.9" text-anchor="end">30</text>
<text x="73.6" y="243.3" text-anchor="end">40</text>
<text x="73.6" y="197.7" text-anchor="end">50</text>
<text x="73.6" y="152.1" text-anchor="end">60</text>
<text x="73.6" y="106.5" text-anchor="end">70</text>
<text transform="translate(305.4 476.4) scale(1.04 1)" text-anchor="middle">Wavelength (<tspan font-family="'Liberation Serif','DejaVu Serif',serif" stroke="none">μ</tspan>m)</text>
<text transform="translate(22.3 256.8) rotate(-90) scale(1.058 1)" text-anchor="middle">Reflection (%)</text>
<path d="M109.6 13.8H163.5" stroke="#FA6E24" stroke-width="2.3" fill="none" stroke-dasharray="5.9 2.56"/>
<text transform="translate(169.7 21.6) scale(1.032 1)">Ref QDIP</text>
<path d="M109.6 42.4H163.5" stroke="#000" stroke-width="2.7" fill="none"/>
<text transform="translate(168.2 50.2) scale(1.040 1)">h=100 nm</text>
<path d="M109.6 71.3H163.5" stroke="#FF0000" stroke-width="2.7" fill="none"/>
<text transform="translate(168.2 79.1) scale(1.040 1)">h=200 nm</text>
<path d="M298.2 13.8H351.0" stroke="#7D0408" stroke-width="2.3" fill="none" stroke-dasharray="5.9 2.56"/>
<text transform="translate(357.7 21.6) scale(1.040 1)">h=315 nm</text>
<path d="M298.2 42.5H351.0" stroke="#008200" stroke-width="2.7" fill="none"/>
<text transform="translate(357.7 50.3) scale(1.040 1)">h=380 nm</text>
<path d="M298.2 71.5H351.0" stroke="#1E8EFF" stroke-width="2.7" fill="none"/>
<text transform="translate(357.7 79.3) scale(1.040 1)">h=550 nm</text>
</svg></body></html>
